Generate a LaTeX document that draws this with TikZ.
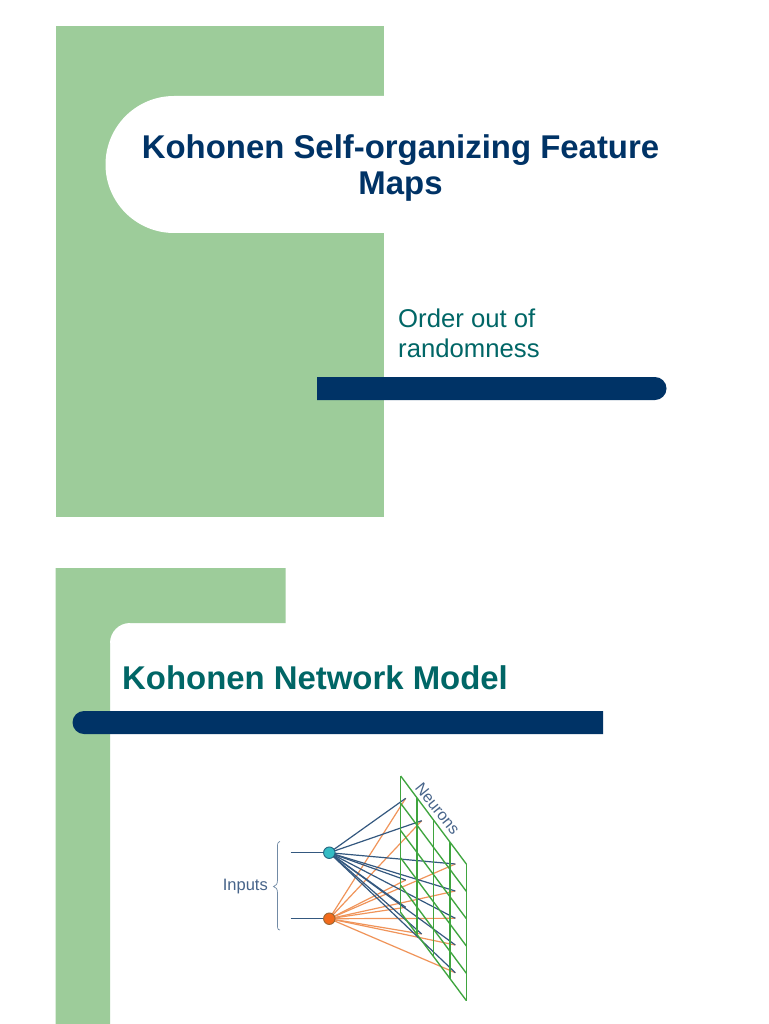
\documentclass[tikz,border=0pt]{standalone}
\usepackage{fontspec}
\setmainfont{Liberation Sans}
\definecolor{slidegreen}{HTML}{9DCC9A}
\definecolor{navy}{HTML}{003366}
\definecolor{tealtxt}{HTML}{006666}
\definecolor{gridgreen}{HTML}{3FA53F}
\definecolor{wireblue}{HTML}{34587F}
\definecolor{wireorange}{HTML}{F0945A}
\definecolor{labelblue}{HTML}{47648A}
\definecolor{nodecyan}{HTML}{35BCC4}
\definecolor{nodeorange}{HTML}{F26A1B}
\tikzset{
  panel/.style={fill=slidegreen,draw=none},
  bar/.style={fill=navy,draw=none},
  gridline/.style={draw=gridgreen,line width=1.35pt},
  bluewire/.style={draw=wireblue,line width=1.2pt},
  orangewire/.style={draw=wireorange,line width=1.2pt},
  inwire/.style={draw=wireblue,line width=1.3pt},
  innode/.style={circle,minimum size=11.5pt,inner sep=0pt,line width=0.9pt},
  lbl/.style={inner sep=0pt,text=labelblue,font=\fontsize{16.5}{18}\selectfont},
}
\begin{document}
\begin{tikzpicture}[x=1pt,y=-1pt]
\useasboundingbox (0,0) rectangle (768,1024);
\fill[white] (0,0) rectangle (768,1024);
% first slide
\fill[panel] (55.5,26) rectangle (384,517);
\fill[white] (384,96) -- (174,96) arc[start angle=90,end angle=270,x radius=68.5,y radius=-68.5] -- (384,233) -- cycle;
\fill[bar] (317,377) -- (655,377) arc[start angle=90,end angle=-90,x radius=11.5,y radius=-11.5] -- (317,400) -- cycle;
\node[inner sep=0pt,align=center,text=navy,font=\bfseries\fontsize{32.9}{36}\selectfont,anchor=center] (t1) at (400.5,167.5) {Kohonen Self-organizing Feature\\Maps};
\node[inner sep=0pt,align=left,text=tealtxt,font=\fontsize{25.7}{30}\selectfont,anchor=north west] (t2) at (398,308.5) {Order out of\\randomness};
% second slide
\fill[panel] (55.5,568) rectangle (285.5,623) (55.5,623) rectangle (110,1024);
\fill[panel] (110,623) rectangle (130,643);
\fill[white] (130,623) arc[start angle=90,end angle=180,x radius=20,y radius=-20] -- (130,643) -- cycle;
\fill[bar] (603,711) -- (84,711) arc[start angle=90,end angle=270,x radius=11.5,y radius=-11.5] -- (603,734) -- cycle;
\node[inner sep=0pt,text=tealtxt,font=\bfseries\fontsize{32.9}{36}\selectfont,anchor=base west] (t3) at (122,689.5) {Kohonen Network Model};
% neuron end points
\foreach \n/\p in {a/{405.7,798.3},b/{421.7,820.7},c/{455.3,864},d/{405.7,880},e/{455.3,891},f/{405.7,907.3},g/{455.3,918.3},h/{421.7,934},i/{455.3,945},j/{455.3,972.7}}
  \coordinate (\n) at (\p);
% input nodes
\coordinate (in1) at (329.3,852.7);
\coordinate (in2) at (329.3,918.7);
\coordinate (s1) at (290.7,852.7);
\coordinate (s2) at (290.7,918.7);
% wires
\foreach \n in {a,b,c,d,e,f,g,h,i,j} \draw[orangewire] (in2) -- (\n);
\foreach \n in {a,b,c,d,e,f,g,h,i,j} \draw[bluewire] (in1) -- (\n);
% grid
\foreach \i in {0,...,4}{
  \pgfmathsetmacro{\vx}{400.7+\i*16.4}
  \pgfmathsetmacro{\vy}{776+\i*22}
  \draw[gridline] (\vx,\vy) -- (\vx,\vy+136.5);
}
\foreach \j in {0,...,5}{
  \pgfmathsetmacro{\dy}{\j*27.3}
  \draw[gridline] (400.7,776+\dy) -- (466.3,864+\dy);
}
\draw[inwire] (s1) -- (in1);
\draw[inwire] (s2) -- (in2);
\node[innode,fill=nodecyan,draw=wireblue!70!teal] (n1) at (in1) {};
\node[innode,fill=nodeorange,draw=brown!80!black] (n2) at (in2) {};
% brace
\coordinate (bt) at (280,841.5);
\coordinate (bb) at (280,930);
\coordinate (bm) at (273.5,886.5);
\draw[draw=wireblue!70,line width=0.7pt] (bt) .. controls (277,842) and (277.5,845) .. (277.5,850) -- (277.5,880) .. controls (277.5,884) and (276,886) .. (bm) .. controls (276,887) and (277.5,889) .. (277.5,893) -- (277.5,922) .. controls (277.5,927) and (277,930) .. (bb);
\node[lbl,anchor=east] (inputs) at (268,886.5) {Inputs};
\node[lbl,rotate=-51,anchor=center,font=\fontsize{16}{18}\selectfont] (neurons) at (437.5,809) {Neurons};
\end{tikzpicture}
\end{document}
